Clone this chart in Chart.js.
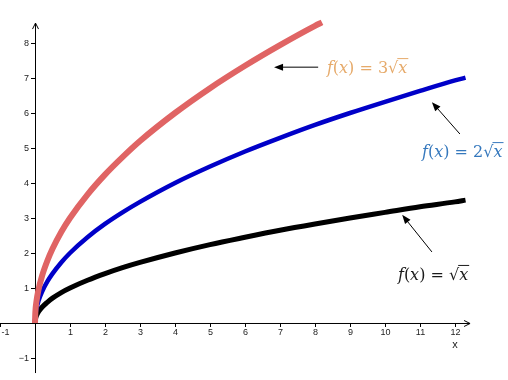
<!DOCTYPE html>
<html><head><meta charset="utf-8">
<script src="https://cdn.jsdelivr.net/npm/chart.js@4/dist/chart.umd.min.js"></script>
<style>html,body{margin:0;padding:0;background:#fff;}canvas{display:block;}</style>
</head><body>
<canvas id="c" width="508" height="380"></canvas>
<script>
// x values
const xsFull = [0, 0.01, 0.04, 0.1, 0.2, 0.35, 0.5, 0.75, 1, 1.5, 2, 2.5, 3, 4, 5, 6, 7, 8, 9, 10, 11, 12, 12.3];
const ySqrt  = [0, 0.1, 0.2, 0.32, 0.45, 0.59, 0.71, 0.87, 1, 1.22, 1.41, 1.58, 1.73, 2, 2.24, 2.45, 2.65, 2.83, 3, 3.16, 3.32, 3.46, 3.51];
const y2Sqrt = [0, 0.2, 0.4, 0.63, 0.89, 1.18, 1.41, 1.73, 2, 2.45, 2.83, 3.16, 3.46, 4, 4.47, 4.9, 5.29, 5.66, 6, 6.32, 6.63, 6.93, 7.01];
const xsRed  = [0, 0.01, 0.04, 0.1, 0.2, 0.35, 0.5, 0.75, 1, 1.5, 2, 2.5, 3, 4, 5, 6, 7, 8, 8.2];
const y3Sqrt = [0, 0.3, 0.6, 0.95, 1.34, 1.77, 2.12, 2.6, 3, 3.67, 4.24, 4.74, 5.2, 6, 6.71, 7.35, 7.94, 8.49, 8.59];
const xTicks = [-1, 1, 2, 3, 4, 5, 6, 7, 8, 9, 10, 11, 12];
const yTicks = [-1, 1, 2, 3, 4, 5, 6, 7, 8];
const xTickLabels = ['-1','1','2','3','4','5','6','7','8','9','10','11','12'];
const yTickLabels = ['\u22121','1','2','3','4','5','6','7','8'];
const labelCoefs = ['3', '2', ''];

function pts(xs, ys){ return xs.map((x,i)=>({x:x, y:ys[i]})); }

const annotations = [
  {coef: labelCoefs[0], color:'#e6aa6a', at:[8.34, 7.14], arrow:[[8.09,7.31],[6.83,7.31]]},
  {coef: labelCoefs[1], color:'#3578bd', at:[11.06, 4.74], arrow:[[12.14,5.4],[11.34,6.31]]},
  {coef: labelCoefs[2], color:'#1a1a1a', at:[10.37, 1.23], arrow:[[11.34,2.03],[10.49,3.09]]}
];

const axesPlugin = {
  id:'axesPlugin',
  beforeDatasetsDraw(chart){
    const ctx = chart.ctx, xs = chart.scales.x, ys = chart.scales.y;
    const ox = xs.getPixelForValue(0), oy = ys.getPixelForValue(0);
    ctx.save();
    ctx.strokeStyle = '#000'; ctx.fillStyle = '#000'; ctx.lineWidth = 1;
    // x axis
    const xEnd = xs.getPixelForValue(12.43);
    ctx.beginPath(); ctx.moveTo(0, oy+0.5); ctx.lineTo(xEnd, oy+0.5); ctx.stroke();
    ctx.beginPath(); ctx.moveTo(xEnd-6, oy-2.5); ctx.lineTo(xEnd, oy+0.5); ctx.lineTo(xEnd-6, oy+3.5); ctx.stroke();
    // y axis
    const yTop = ys.getPixelForValue(8.57), yBot = ys.getPixelForValue(-1.43);
    ctx.beginPath(); ctx.moveTo(ox+0.5, yBot); ctx.lineTo(ox+0.5, yTop); ctx.stroke();
    ctx.beginPath(); ctx.moveTo(ox-2.5, yTop+6); ctx.lineTo(ox+0.5, yTop); ctx.lineTo(ox+3.5, yTop+6); ctx.stroke();
    // ticks
    ctx.font = '9px "Liberation Sans", Arial, sans-serif';
    ctx.fillStyle = '#222';
    xTicks.forEach((v,i)=>{
      const px = Math.round(xs.getPixelForValue(v))+0.5;
      ctx.beginPath(); ctx.moveTo(px, oy); ctx.lineTo(px, oy+4); ctx.stroke();
      ctx.textAlign='center'; ctx.textBaseline='middle';
      ctx.fillText(xTickLabels[i], v<0 ? px+5 : px, oy+10);
    });
    yTicks.forEach((v,i)=>{
      const py = Math.round(ys.getPixelForValue(v))+0.5;
      ctx.beginPath(); ctx.moveTo(ox-4, py); ctx.lineTo(ox, py); ctx.stroke();
      ctx.textAlign='right'; ctx.textBaseline='middle';
      ctx.fillText(yTickLabels[i], ox-6, py);
    });
    ctx.font = '11px "Liberation Sans", Arial, sans-serif';
    ctx.textAlign='center';
    ctx.fillText('x', xs.getPixelForValue(12), oy+22);
    ctx.restore();
  },
  afterDatasetsDraw(chart){
    const ctx = chart.ctx, xs = chart.scales.x, ys = chart.scales.y;
    ctx.save();
    annotations.forEach(a=>{
      // arrow
      const x1 = xs.getPixelForValue(a.arrow[0][0]), y1 = ys.getPixelForValue(a.arrow[0][1]);
      const x2 = xs.getPixelForValue(a.arrow[1][0]), y2 = ys.getPixelForValue(a.arrow[1][1]);
      const ang = Math.atan2(y2-y1, x2-x1);
      ctx.strokeStyle='#000'; ctx.fillStyle='#000'; ctx.lineWidth=1;
      ctx.beginPath(); ctx.moveTo(x1,y1); ctx.lineTo(x2-6*Math.cos(ang), y2-6*Math.sin(ang)); ctx.stroke();
      ctx.beginPath();
      ctx.moveTo(x2,y2);
      ctx.lineTo(x2-9*Math.cos(ang)+3.5*Math.sin(ang), y2-9*Math.sin(ang)-3.5*Math.cos(ang));
      ctx.lineTo(x2-9*Math.cos(ang)-3.5*Math.sin(ang), y2-9*Math.sin(ang)+3.5*Math.cos(ang));
      ctx.closePath(); ctx.fill();
      // label
      let x = xs.getPixelForValue(a.at[0]); const base = ys.getPixelForValue(a.at[1]);
      ctx.fillStyle = a.color; ctx.strokeStyle = a.color;
      ctx.textAlign='left'; ctx.textBaseline='alphabetic';
      const it = 'italic 16px "DejaVu Serif", "Liberation Serif", serif';
      const rm = '16px "DejaVu Serif", "Liberation Serif", serif';
      const parts = [[it,'f'],[rm,'('],[it,'x'],[rm,')'],[rm,' = '+a.coef]];
      parts.forEach(p=>{ ctx.font=p[0]; ctx.fillText(p[1], x, base); x += ctx.measureText(p[1]).width; });
      ctx.font = rm; ctx.fillText('\u221A', x, base); x += ctx.measureText('\u221A').width;
      ctx.font = it; const w = ctx.measureText('x').width;
      ctx.fillText('x', x, base);
      ctx.lineWidth = 1;
      ctx.beginPath(); ctx.moveTo(x-1, base-14.5); ctx.lineTo(x+w+1, base-14.5); ctx.stroke();
    });
    ctx.restore();
  }
};

new Chart(document.getElementById('c'), {
  type:'scatter',
  data:{ datasets:[
    {label:'f(x) = 3\u221Ax', data: pts(xsRed, y3Sqrt), borderColor:'#e06464', borderWidth:6, showLine:true, pointRadius:0, cubicInterpolationMode:'monotone', borderCapStyle:'butt'},
    {label:'f(x) = 2\u221Ax', data: pts(xsFull, y2Sqrt), borderColor:'#0000c8', borderWidth:4.5, showLine:true, pointRadius:0, cubicInterpolationMode:'monotone', borderCapStyle:'butt'},
    {label:'f(x) = \u221Ax', data: pts(xsFull, ySqrt), borderColor:'#000000', borderWidth:5, showLine:true, pointRadius:0, cubicInterpolationMode:'monotone', borderCapStyle:'butt'}
  ]},
  options:{
    responsive:false, animation:false, devicePixelRatio:1,
    layout:{padding:0},
    plugins:{legend:{display:false}, tooltip:{enabled:false}},
    scales:{
      x:{type:'linear', display:false, min:-1, max:13.514},
      y:{type:'linear', display:false, min:-1.629, max:9.229}
    }
  },
  plugins:[axesPlugin]
});
</script>
</body></html>
